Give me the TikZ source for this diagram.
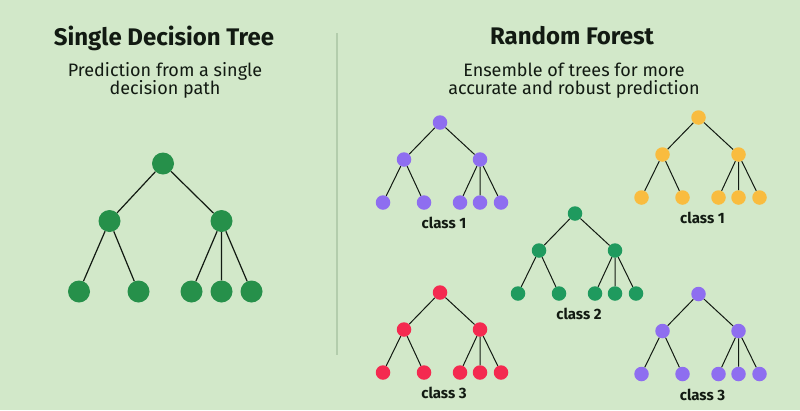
\documentclass[tikz,border=0pt]{standalone}
\usepackage{fontspec}
\setmainfont{Fira Sans}
\usepackage{xcolor}
\definecolor{bgcol}{HTML}{D2E8C9}
\definecolor{rulecol}{HTML}{B3CDAC}
\definecolor{inkcol}{HTML}{121A12}
\definecolor{treegreen}{HTML}{26904A}
\definecolor{treepurple}{HTML}{8E6EF0}
\definecolor{treeyellow}{HTML}{F9BC3F}
\definecolor{treeteal}{HTML}{1F9A5E}
\definecolor{treered}{HTML}{F42A50}
\tikzset{
    bigdot/.style   = {circle, fill=treegreen, inner sep=0pt, minimum size=22pt},
    smalldot/.style = {circle, fill=#1, inner sep=0pt, minimum size=14.5pt},
    bigbranch/.style = {draw=inkcol, line width=1.2pt},
    twig/.style     = {draw=inkcol, line width=1pt},
    heading/.style  = {text=inkcol, anchor=base, font=\fontsize{24}{28}\selectfont\bfseries},
    subheading/.style = {text=inkcol, anchor=base, align=center,
                         font=\fontsize{18}{18.5}\selectfont},
    classlabel/.style = {text=inkcol, anchor=base, font=\fontsize{15}{17}\selectfont\bfseries},
}
% one small tree of the forest: #1 name, #2 root, #3 colour, #4 label
\newcommand{\foresttree}[4]{%
    \begin{scope}[shift={(#2)}]
        \node[smalldot=#3] (#1r) at (0,0) {};
        \node[smalldot=#3] (#1a) at (-36,37) {};
        \node[smalldot=#3] (#1b) at (40,37) {};
        \foreach \x [count=\i] in {-57,-16,20,40,61}
            \node[smalldot=#3] (#1l\i) at (\x,80) {};
        \draw[twig] (#1r) -- (#1a) (#1r) -- (#1b)
            (#1a) -- (#1l1) (#1a) -- (#1l2)
            (#1b) -- (#1l3) (#1b) -- (#1l4) (#1b) -- (#1l5);
        \node[classlabel] (#1c) at (4,106) {#4};
    \end{scope}}

\begin{document}
\begin{tikzpicture}[x=1pt, y=-1pt]
          \fill[bgcol] (0,0) rectangle (800,410);
          \useasboundingbox (0,0) rectangle (800,410);

          % headings (base of a two-line node is its last line)
          \node[heading] (dtitle) at (164,45) {Single Decision Tree};
          \node[subheading] (dsub) at (165,94.5) {Prediction from a single\\decision path};
          \node[heading] (rtitle) at (572,44.5) {Random Forest};
          \node[subheading] (rsub) at (574,94.5) {Ensemble of trees for more\\accurate and robust prediction};

          \coordinate (top) at (337,33);
          \coordinate (bot) at (337,355);
          \draw[rulecol, line width=1.4pt] (top) -- (bot);

          % single decision tree
          \begin{scope}
            \node[bigdot] (root) at (163,163.5) {};
            \node[bigdot] (left) at (109.5,221) {};
            \node[bigdot] (right) at (221.5,221) {};
            \foreach \x [count=\i] in {79,138.5,191.5,221.5,251.5}
                \node[bigdot] (leaf\i) at (\x,291.5) {};
            \draw[bigbranch] (root) -- (left) (root) -- (right)
                (left) -- (leaf1) (left) -- (leaf2)
                (right) -- (leaf3) (right) -- (leaf4) (right) -- (leaf5);
          \end{scope}

          % random forest
          \foresttree{ta}{440,122.5}{treepurple}{class 1}
          \foresttree{tb}{698.5,117.5}{treeyellow}{class 1}
          \foresttree{tc}{575,213.5}{treeteal}{class 2}
          \foresttree{td}{440,292.5}{treered}{class 3}
          \foresttree{te}{698.5,294}{treepurple}{class 3}
        \end{tikzpicture}
\end{document}
